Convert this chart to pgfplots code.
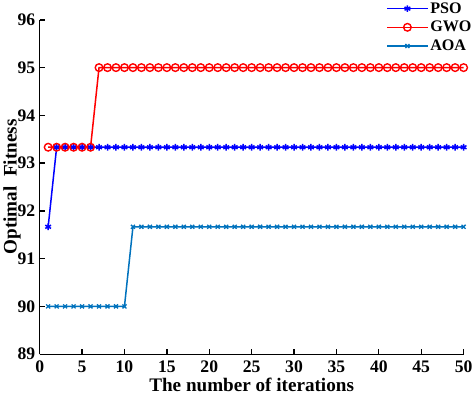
\documentclass[border=0pt]{standalone}
\usepackage{pgfplots}
\pgfplotsset{compat=1.18}
\usepackage{fontspec}
\setmainfont{Liberation Serif}
\definecolor{aoa}{rgb}{0,0.447,0.741}
\begin{document}
\begin{tikzpicture}[font=\fontsize{17bp}{19bp}\selectfont\bfseries]
\begin{axis}[
  scale only axis,
  width=421bp, height=332bp,
  xmin=0, xmax=50, ymin=89, ymax=96,
  xtick={0,5,...,50}, ytick={89,...,96},
  axis x line*=bottom, axis y line*=left,
  tick align=inside,
  major tick length=5bp,
  axis line style={line width=1.3pt},
  tick style={line width=1.3pt, black},
  /pgf/number format/assume math mode=true,
  ticklabel style={font=\fontsize{17.5bp}{19bp}\selectfont\bfseries},
  xticklabel style={anchor=base, yshift=-18.5bp, inner sep=0bp},
  yticklabel style={xshift=-1bp},
  xlabel={The number of iterations},
  ylabel={Optimal\ \ Fitness},
  label style={font=\fontsize{19bp}{21bp}\selectfont\bfseries},
  xlabel style={at={(axis description cs:0.5,0)}, anchor=base, yshift=-37.5bp, inner sep=0bp},
  ylabel style={yshift=-10bp},
  legend style={draw=none, fill=none, at={(1.025,1.06)}, anchor=north east, font=\fontsize{16bp}{18bp}\selectfont\bfseries, row sep=2.5bp, inner sep=0.5bp},
  legend cell align=left,
  legend image code/.code={\draw[line width=1.5pt, mark repeat=2, mark phase=2] plot coordinates {(0bp,0bp) (20bp,0bp) (40bp,0bp)};},
]
\addplot[color=blue, line width=1.5pt, mark=asterisk, mark size=3.3pt, mark options={line width=1.5pt}] coordinates {
(1,91.667)(2,93.333)(3,93.333)(4,93.333)(5,93.333)(6,93.333)(7,93.333)(8,93.333)(9,93.333)(10,93.333)
(11,93.333)(12,93.333)(13,93.333)(14,93.333)(15,93.333)(16,93.333)(17,93.333)(18,93.333)(19,93.333)(20,93.333)
(21,93.333)(22,93.333)(23,93.333)(24,93.333)(25,93.333)(26,93.333)(27,93.333)(28,93.333)(29,93.333)(30,93.333)
(31,93.333)(32,93.333)(33,93.333)(34,93.333)(35,93.333)(36,93.333)(37,93.333)(38,93.333)(39,93.333)(40,93.333)
(41,93.333)(42,93.333)(43,93.333)(44,93.333)(45,93.333)(46,93.333)(47,93.333)(48,93.333)(49,93.333)(50,93.333)};
\addlegendentry{PSO}
\addplot[color=red, line width=1.5pt, mark=o, mark size=3.8pt, mark options={line width=1.4pt}] coordinates {
(1,93.333)(2,93.333)(3,93.333)(4,93.333)(5,93.333)(6,93.333)(7,95)(8,95)(9,95)(10,95)
(11,95)(12,95)(13,95)(14,95)(15,95)(16,95)(17,95)(18,95)(19,95)(20,95)
(21,95)(22,95)(23,95)(24,95)(25,95)(26,95)(27,95)(28,95)(29,95)(30,95)
(31,95)(32,95)(33,95)(34,95)(35,95)(36,95)(37,95)(38,95)(39,95)(40,95)
(41,95)(42,95)(43,95)(44,95)(45,95)(46,95)(47,95)(48,95)(49,95)(50,95)};
\addlegendentry{GWO}
\addplot[color=aoa, line width=1.5pt, mark=x, mark size=2.8pt, mark options={line width=1.3pt}] coordinates {
(1,90)(2,90)(3,90)(4,90)(5,90)(6,90)(7,90)(8,90)(9,90)(10,90)
(11,91.667)(12,91.667)(13,91.667)(14,91.667)(15,91.667)(16,91.667)(17,91.667)(18,91.667)(19,91.667)(20,91.667)
(21,91.667)(22,91.667)(23,91.667)(24,91.667)(25,91.667)(26,91.667)(27,91.667)(28,91.667)(29,91.667)(30,91.667)
(31,91.667)(32,91.667)(33,91.667)(34,91.667)(35,91.667)(36,91.667)(37,91.667)(38,91.667)(39,91.667)(40,91.667)
(41,91.667)(42,91.667)(43,91.667)(44,91.667)(45,91.667)(46,91.667)(47,91.667)(48,91.667)(49,91.667)(50,91.667)};
\addlegendentry{AOA}
\end{axis}
\path (current axis.south west) ++(0,-43bp);
\end{tikzpicture}
\end{document}
